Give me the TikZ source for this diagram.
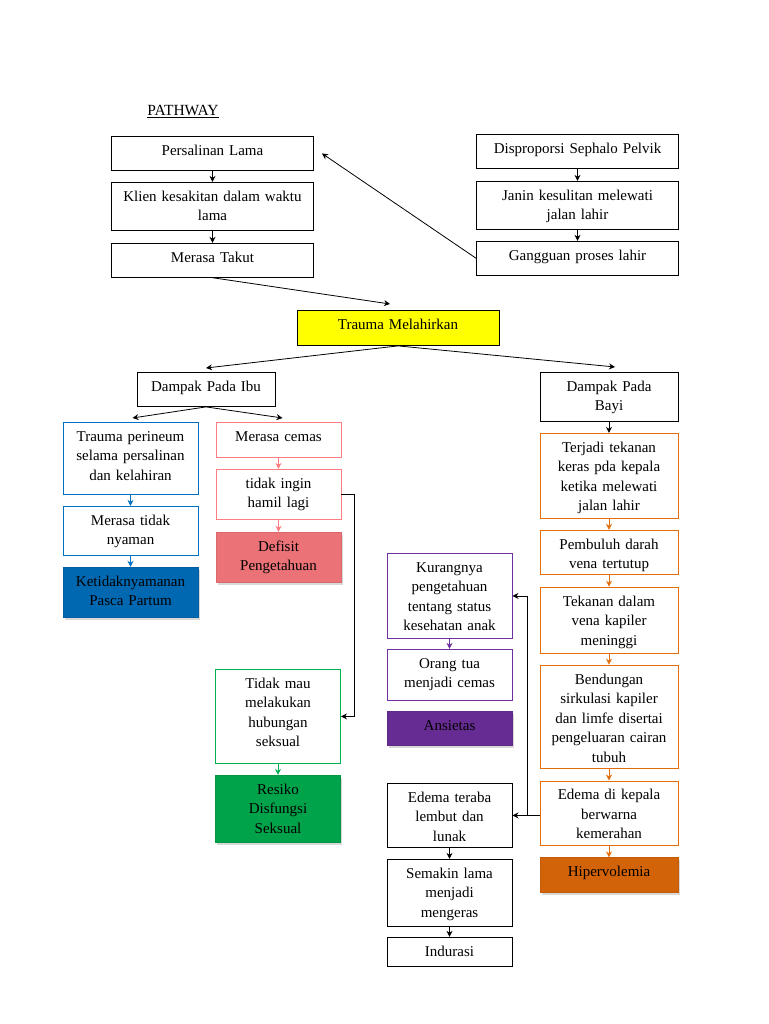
\documentclass[tikz,border=0pt]{standalone}
\usepackage{fontspec}
\setmainfont{Liberation Serif}
\usepackage{tikz}
\usetikzlibrary{arrows.meta, calc, positioning, shadows}

\definecolor{biru}{RGB}{0,112,192}
\definecolor{merahmuda}{RGB}{255,124,128}
\definecolor{hijau}{RGB}{0,176,80}
\definecolor{ungu}{RGB}{112,48,160}
\definecolor{oranye}{RGB}{228,108,10}
\definecolor{kuning}{RGB}{255,255,0}

\begin{document}
\begin{tikzpicture}[x=1pt, y=-1pt, >={Stealth[length=6pt,width=6pt]},
  line width=0.8pt, node distance=11pt,
  font=\fontsize{15}{19.5}\selectfont,
  box/.style={draw=#1, line width=0.9pt, align=center, inner xsep=4pt,
    inner ysep=4.5pt, text height=14.5pt},
  box/.default=black,
  fillbox/.style={box=#1!85!black, top color=#1!92!black, middle color=#1!88!white,
    bottom color=#1!92!black,
    drop shadow={shadow xshift=1.5pt, shadow yshift=-2.5pt, opacity=0.3}},
  lebar/.style={text width=194pt},
  sedang/.style={text width=130pt},
  sempit/.style={text width=117pt}]

\useasboundingbox (0,0) rectangle (768,1024);

% judul
\node[inner sep=0pt, anchor=base west] (Judul) at (147,116) {\fontsize{15.5}{19.5}\selectfont\underline{PATHWAY}};

% kolom kiri atas
\node[box, lebar, anchor=north, text depth=10.5pt] (Persalinan) at (212.5,136) {Persalinan Lama};
\node[box, lebar, text depth=24.5pt] (Klien) [below=of Persalinan] {Klien kesakitan dalam waktu\\ lama};
\node[box, lebar, text depth=10.5pt] (Takut) [below=12pt of Klien] {Merasa Takut};

% kolom kanan atas
\node[box, lebar, anchor=north, text depth=10.5pt] (Dispro) at (577.5,134) {Disproporsi Sephalo Pelvik};
\node[box, lebar, text depth=24.5pt] (Janin) [below=12pt of Dispro] {Janin kesulitan melewati\\ jalan lahir};
\node[box, lebar, text depth=10.5pt] (Gangguan) [below=of Janin] {Gangguan proses lahir};

% trauma
\node[box, lebar, anchor=north, fill=kuning, text depth=11.5pt] (Trauma) at (398,310) {Trauma Melahirkan};
\node[box, sedang, anchor=north, text depth=10.5pt] (Ibu) at (206,372) {Dampak Pada Ibu};
\node[box, sedang, anchor=north, text depth=25.5pt] (Bayi) at (609,372) {Dampak Pada\\ Bayi};

% dampak pada ibu
\node[box=biru, text width=127pt, anchor=north, text depth=48.5pt] (Perineum) at (130.5,422) {Trauma perineum\\ selama persalinan\\ dan kelahiran};
\node[box=biru, text width=127pt, text depth=25.5pt] (Nyaman) [below=of Perineum] {Merasa tidak\\ nyaman};
\node[fillbox=biru, text width=127pt, text depth=26.5pt] (Pasca) [below=of Nyaman] {Ketidaknyamanan\\ Pasca Partum};

\node[box=merahmuda, sempit, anchor=north, text depth=11.5pt] (Cemas) at (278.5,422) {Merasa cemas};
\node[box=merahmuda, sempit, text depth=26.5pt] (Ingin) [below=of Cemas] {tidak ingin\\ hamil lagi};
\node[fillbox=merahmuda, sempit, text depth=26.5pt] (Defisit) [below=12pt of Ingin] {Defisit\\ Pengetahuan};

\node[box=hijau, sempit, anchor=north, text depth=70.5pt] (TidakMau) at (278,669) {Tidak mau\\ melakukan\\ hubungan\\ seksual};
\node[fillbox=hijau, sempit, text depth=43.5pt] (Resiko) [below=of TidakMau] {Resiko\\ Disfungsi\\ Seksual};

% dampak pada bayi
\node[box=oranye, sedang, text depth=61.5pt] (Tekanan) [below=of Bayi] {Terjadi tekanan\\ keras pda kepala\\ ketika melewati\\ jalan lahir};
\node[box=oranye, sedang, text depth=20.5pt] (Pembuluh) [below=of Tekanan] {Pembuluh darah\\ vena tertutup};
\node[box=oranye, sedang, text depth=42.5pt] (Kapiler) [below=12pt of Pembuluh] {Tekanan dalam\\ vena kapiler\\ meninggi};
\node[box=oranye, sedang, text depth=79.5pt] (Bendungan) [below=of Kapiler] {Bendungan\\ sirkulasi kapiler\\ dan limfe disertai\\ pengeluaran cairan\\ tubuh};
\node[box=oranye, sedang, text depth=40.5pt] (EdemaKepala) [below=12pt of Bendungan] {Edema di kepala\\ berwarna\\ kemerahan};
\node[fillbox=oranye, sedang, text depth=11.5pt] (Hiper) [below=12pt of EdemaKepala] {Hipervolemia};

\node[box=ungu, sempit, anchor=north, text depth=61.5pt] (Kurang) at (449.5,553) {Kurangnya\\ pengetahuan\\ tentang status\\ kesehatan anak};
\node[box=ungu, sempit, text depth=27.5pt] (OrangTua) [below=10pt of Kurang] {Orang tua\\ menjadi cemas};
\node[fillbox=ungu, sempit, text depth=10.5pt] (Ansietas) [below=10pt of OrangTua] {Ansietas};

\node[box, sempit, anchor=north, text depth=40.5pt] (EdemaTeraba) at (449.5,783) {Edema teraba\\ lembut dan\\ lunak};
\node[box, sempit, text depth=43.5pt] (Semakin) [below=of EdemaTeraba] {Semakin lama\\ menjadi\\ mengeras};
\node[box, sempit, text depth=5.5pt] (Indurasi) [below=10pt of Semakin] {Indurasi};

% panah hitam
\draw[->] (Persalinan) -- (Klien);
\draw[->] (Klien) -- (Takut);
\draw[->] (Dispro) -- (Janin);
\draw[->] (Janin) -- (Gangguan);
\draw[->] (Gangguan.west) -- ([xshift=8pt]Persalinan.east);
\draw[->] (Takut.south) -- ([xshift=-8pt,yshift=6pt]Trauma.north);
\draw[->] (Trauma.south) -- ([yshift=4pt]Ibu.north);
\draw[->] (Trauma.south) -- ([xshift=6pt,yshift=5pt]Bayi.north);
\draw[->] (Ibu.south) -- ([xshift=2pt,yshift=4pt]Perineum.north);
\draw[->] (Ibu.south) -- ([xshift=4pt,yshift=4pt]Cemas.north);
\draw[->] (Bayi) -- (Tekanan);
\draw[->] (Ingin.east) -- ++(13,0) |- (TidakMau.east);
\draw[->] (EdemaTeraba.east -| EdemaKepala.west) -- (EdemaTeraba.east);
\draw[->] ([xshift=-12pt]EdemaTeraba.east -| EdemaKepala.west) |- (Kurang.east);
\draw[->] (EdemaTeraba) -- (Semakin);
\draw[->] (Semakin) -- (Indurasi);

% panah berwarna
\draw[->, biru] (Perineum) -- (Nyaman);
\draw[->, biru] (Nyaman) -- (Pasca);
\draw[->, merahmuda] (Cemas) -- (Ingin);
\draw[->, merahmuda] (Ingin) -- (Defisit);
\draw[->, hijau] (TidakMau) -- (Resiko);
\draw[->, ungu] (Kurang) -- (OrangTua);
\draw[->, oranye] (Tekanan) -- (Pembuluh);
\draw[->, oranye] (Pembuluh) -- (Kapiler);
\draw[->, oranye] (Kapiler) -- (Bendungan);
\draw[->, oranye] (Bendungan) -- (EdemaKepala);
\draw[->, oranye] (EdemaKepala) -- (Hiper);

\end{tikzpicture}
\end{document}
